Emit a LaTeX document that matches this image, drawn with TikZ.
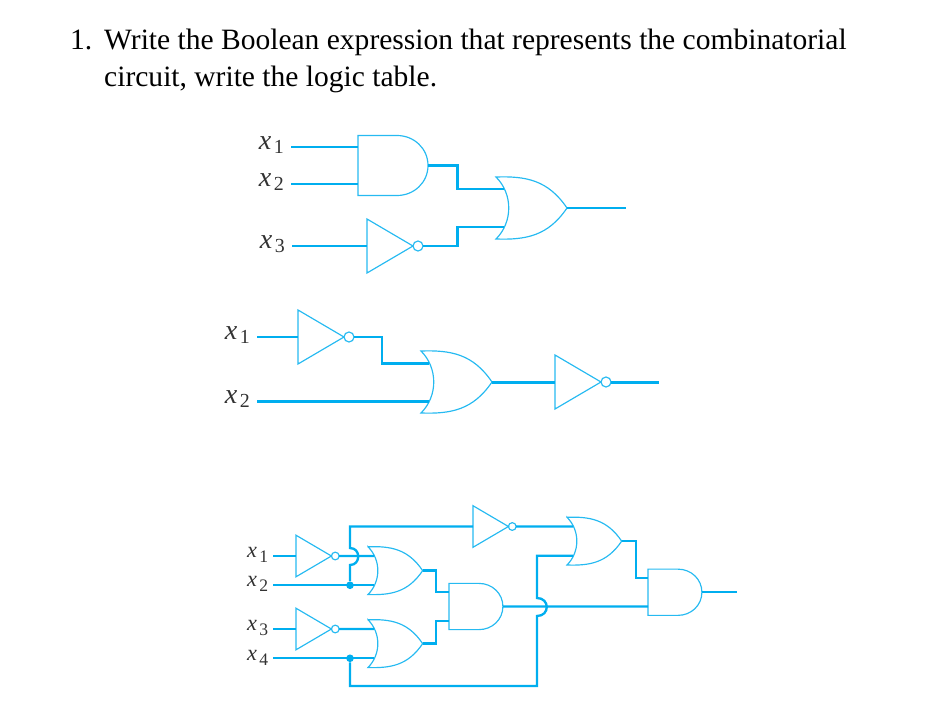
\documentclass[tikz,border=0pt]{standalone}
\usepackage{fontspec}
\setmainfont{Liberation Serif}
\definecolor{wirecol}{RGB}{0,174,239}
\newcommand{\varlbl}[3]{{\fontsize{#1}{#1}\selectfont\itshape x}\kern2pt\lower4pt\hbox{\fontsize{#2}{#2}\selectfont #3}}
\tikzset{
    wire/.style={draw=wirecol,line width=2.55pt},
    thinwire/.style={draw=wirecol,line width=2pt},
    gate/.style={draw=wirecol!85,line width=1pt},
    dot/.style={circle,fill=wirecol,inner sep=0pt,minimum size=6.5pt},
    lbl/.style={anchor=east,inner ysep=0pt,inner xsep=6pt,text=black!80},
    title/.style={anchor=base west,inner sep=0pt,font=\fontsize{25.2pt}{25.2pt}\selectfont},
    andgate/.pic={
        \draw[gate] (0,-30)--(39,-30) .. controls (56,-30) and (70,-17) .. (70,0) .. controls (70,17) and (56,30) .. (39,30)--(0,30)--cycle;
        \coordinate (-in1) at (0,-18.5);
        \coordinate (-in2) at (0,18.5);
        \coordinate (-out) at (70,0);
    },
    orgate/.pic={
        \draw[gate] (0,-31) .. controls (30,-32) and (52,-28) .. (71,0) .. controls (52,28) and (30,32) .. (0,31) .. controls (17,14) and (17,-14) .. cycle;
        \coordinate (-in1) at (8,-19);
        \coordinate (-in2) at (8,19);
        \coordinate (-out) at (71,0);
    },
    notgate/.pic={
        \draw[gate] (0,-27)--(46,0)--(0,27)--cycle;
        \draw[gate] (51,0) circle (5);
        \coordinate (-in) at (0,0);
        \coordinate (-out) at (56,0);
    }
}
\begin{document}
\begin{tikzpicture}[x=0.03cm,y=-0.03cm]
    \useasboundingbox (0,0) rectangle (928,726);
    \node[title] (num) at (70,49) {1.};
    \node[title] (line1) at (104,49) {Write the Boolean expression that represents the combinatorial};
    \node[title] (line2) at (104,86) {circuit, write the logic table.};

    \node[lbl] (a1) at (291,145) {\varlbl{24pt}{17pt}{1}};
    \node[lbl] (a2) at (291,182) {\varlbl{24pt}{17pt}{2}};
    \node[lbl] (a3) at (292,244) {\varlbl{24pt}{17pt}{3}};
    \pic (and1) at (358,165.5) {andgate};
    \pic (not1) at (367,246) {notgate};
    \pic (or1) at (496,208) {orgate};
    \coordinate (end1) at (626,208);
    \draw[wire] (a1.east |- and1-in1)--(and1-in1);
    \draw[wire] (a2.east |- and1-in2)--(and1-in2);
    \draw[wire] (a3.east |- not1-in)--(not1-in);
    \draw[wire] (and1-out)--++(29,0) |- (or1-in1);
    \draw[wire] (not1-out)--++(34,0) |- (or1-in2);
    \draw[wire] (or1-out)--(end1);

    \node[lbl] (b1) at (257,335) {\varlbl{24pt}{17pt}{1}};
    \node[lbl] (b2) at (257,399) {\varlbl{24pt}{17pt}{2}};
    \pic (not2) at (298,337) {notgate};
    \pic (or2) at (421,382) {orgate};
    \pic (not3) at (555,382) {notgate};
    \coordinate (end2) at (659,382);
    \draw[wire] (b1.east |- not2-in)--(not2-in);
    \draw[wire] (b2.east |- or2-in2)--(or2-in2);
    \draw[wire] (not2-out)--++(28,0) |- (or2-in1);
    \draw[wire] (or2-out)--(not3-in);
    \draw[wire] (not3-out)--(end2);

    \node[lbl,inner xsep=4pt] (c1) at (273,555) {\varlbl{19pt}{15pt}{1}};
    \node[lbl,inner xsep=4pt] (c2) at (273,584) {\varlbl{19pt}{15pt}{2}};
    \node[lbl,inner xsep=4pt] (c3) at (273,628) {\varlbl{19pt}{15pt}{3}};
    \node[lbl,inner xsep=4pt] (c4) at (273,658) {\varlbl{19pt}{15pt}{4}};
    \pic[scale=0.77] (not4) at (296,556) {notgate};
    \pic[scale=0.77] (not5) at (296,629) {notgate};
    \pic[scale=0.77] (not6) at (473,526.5) {notgate};
    \pic[scale=0.77] (or3) at (368,570.63) {orgate};
    \pic[scale=0.77] (or4) at (368,643.63) {orgate};
    \pic[scale=0.77] (or5) at (567,541.13) {orgate};
    \pic[scale=0.77] (and2) at (449,606.5) {andgate};
    \pic[scale=0.77] (and3) at (648,592.25) {andgate};
    \node[dot] (jn1) at (350,585.26) {};
    \node[dot] (jn2) at (350,658.26) {};
    \coordinate (bump1a) at (350,565);
    \coordinate (bump1b) at (350,548);
    \coordinate (bump2a) at (537,616);
    \coordinate (bump2b) at (537,598);
    \coordinate (end3) at (737,592.25);
    \draw[thinwire] (c1.east |- not4-in)--(not4-in);
    \draw[thinwire] (c2.east |- or3-in2)--(or3-in2);
    \draw[thinwire] (c3.east |- not5-in)--(not5-in);
    \draw[thinwire] (c4.east |- or4-in2)--(or4-in2);
    \draw[thinwire] (not4-out)--(or3-in1);
    \draw[thinwire] (not5-out)--(or4-in1);
    \draw[thinwire] (jn1)--(bump1a) .. controls +(11,0) and +(11,0) .. (bump1b)--(350,526.5)--(not6-in);
    \draw[thinwire] (jn2)--(350,686)--(537,686)--(bump2a) .. controls +(13,0) and +(13,0) .. (bump2b)--(537,555.76)--(or5-in2);
    \draw[thinwire] (not6-out)--(or5-in1);
    \draw[thinwire] (or3-out)--++(13,0) |- (and2-in1);
    \draw[thinwire] (or4-out)--++(13,0) |- (and2-in2);
    \draw[thinwire] (and2-out)--(and3-in2);
    \draw[thinwire] (or5-out)--++(14,0) |- (and3-in1);
    \draw[thinwire] (and3-out)--(end3);
\end{tikzpicture}
\end{document}
